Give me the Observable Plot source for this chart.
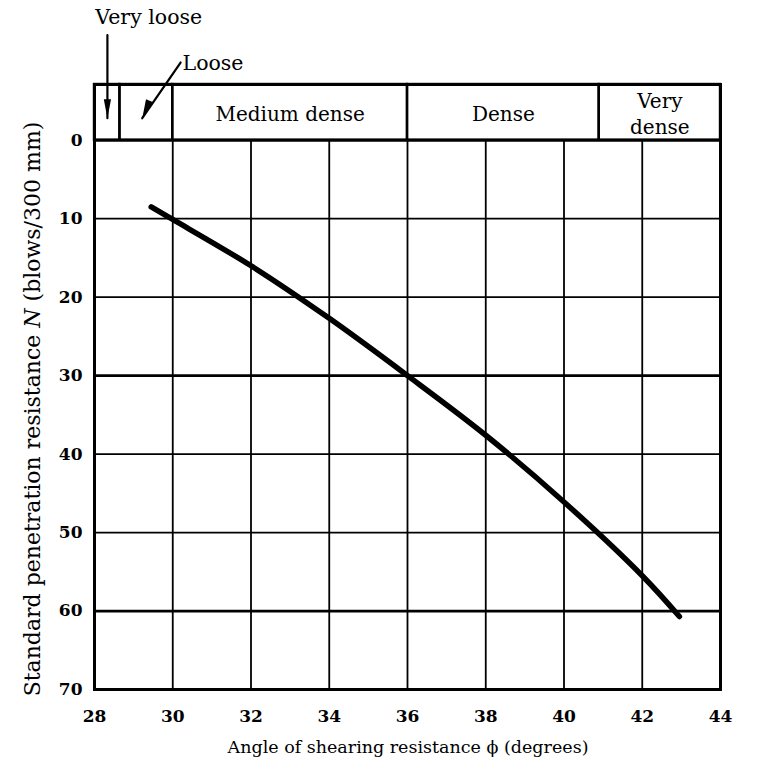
<!DOCTYPE html>
<html><head><meta charset="utf-8">
<script src="https://cdn.jsdelivr.net/npm/d3@7"></script>
<script src="https://cdn.jsdelivr.net/npm/@observablehq/plot@0.6"></script>
<style>body{margin:0;background:#fff}</style>
</head><body><div id="chart"></div>
<script>
// Curve: angle of shearing resistance (deg) vs SPT N
const phi = [29.45, 30, 32, 34, 36, 38, 40, 42, 42.95];
const N   = [8.5, 10.1, 16.0, 22.7, 30.0, 37.6, 46.1, 55.5, 60.7];
const xTicks = [28, 30, 32, 34, 36, 38, 40, 42, 44];
const yTicks = [0, 10, 20, 30, 40, 50, 60, 70];
const boldRows = [30, 60];
// Density band
const bandEdges = [28, 28.65, 30, 36, 40.9, 44];
const bandLabels = ["", "", "Medium dense", "Dense", "Very\ndense"];
const bandTop = -7.1;
// Annotations above the band
const annotLabels = ["Very loose", "Loose"];
const annotX = [28.02, 30.25];
const annotY = [-15.7, -9.8];
const arrowX1 = [28.33, 30.2], arrowY1 = [-13.4, -9.9];
const arrowX2 = [28.33, 29.22], arrowY2 = [-2.8, -2.8];
const arrowBend = [0, -28];
const arrowTilt = [0, 22];

const curve = phi.map((p, i) => ({phi: p, N: N[i]}));
const bands = bandLabels.map((l, i) => ({x1: bandEdges[i], x2: bandEdges[i + 1], label: l, xm: (bandEdges[i] + bandEdges[i + 1]) / 2}));
const annots = annotLabels.map((l, i) => ({label: l, x: annotX[i], y: annotY[i]}));
const arrows = arrowX1.map((x, i) => ({x1: x, y1: arrowY1[i], x2: arrowX2[i], y2: arrowY2[i], bend: arrowBend[i], tilt: arrowTilt[i]}));

// narrow filled arrowhead, tip at origin pointing down
const headSymbol = {draw(ctx) { ctx.moveTo(0, 0); ctx.lineTo(-3.6, -19); ctx.lineTo(3.6, -19); ctx.closePath(); }};

const font = "'DejaVu Serif', 'Liberation Serif', serif";

const chart = Plot.plot({
  width: 768, height: 777,
  marginLeft: 94, marginRight: 48, marginTop: 84, marginBottom: 88,
  style: {fontFamily: font, fontSize: "16px", color: "#000", background: "#fff", overflow: "visible"},
  x: {domain: [28, 44]},
  y: {domain: [bandTop, 70], reverse: true},
  marks: [
    Plot.ruleX(xTicks.slice(1, -1), {y1: 0, y2: 70, stroke: "#000", strokeWidth: 1.8, strokeOpacity: 1}),
    Plot.ruleY(yTicks.slice(1, -1).filter(v => !boldRows.includes(v)), {stroke: "#000", strokeWidth: 1.8, strokeOpacity: 1}),
    Plot.ruleY(boldRows, {stroke: "#000", strokeWidth: 2.8, strokeOpacity: 1}),
    Plot.ruleY([0], {stroke: "#000", strokeWidth: 3}),
    Plot.rect(bands, {x1: "x1", x2: "x2", y1: bandTop, y2: 0, fill: "none", stroke: "#000", strokeWidth: 2.4}),
    Plot.text(bands.filter(d => d.label), {x: "xm", y: bandTop / 2, text: "label", fontSize: 20, lineHeight: 1.3, fill: "#000"}),
    Plot.text(annots, {x: "x", y: "y", text: "label", textAnchor: "start", fontSize: 20.5, fill: "#000"}),
    Plot.arrow(arrows, {x1: "x1", y1: "y1", x2: "x2", y2: "y2", bend: "bend", stroke: "#000", strokeWidth: 2.2, headLength: 0}),
    Plot.dot(arrows, {x: "x2", y: "y2", symbol: headSymbol, rotate: "tilt", fill: "#000", stroke: "none"}),
    Plot.frame({stroke: "#000", strokeWidth: 3}),
    Plot.line(curve, {x: "phi", y: "N", curve: "catmull-rom", stroke: "#000", strokeWidth: 5.5, strokeLinecap: "round"}),
    Plot.axisX({ticks: xTicks, tickSize: 0, tickPadding: 20, fontSize: 17, fontWeight: "bold", label: null}),
    Plot.axisY({ticks: yTicks, tickSize: 0, tickPadding: 12, fontSize: 17, fontWeight: "bold", label: null})
  ]
});

const svg = d3.select(chart);
svg.append("text")
  .attr("x", 408).attr("y", 753)
  .attr("text-anchor", "middle")
  .attr("font-family", font).attr("font-size", 17.5).attr("fill", "#000")
  .text("Angle of shearing resistance \u03d5 (degrees)");
const yl = svg.append("text")
  .attr("transform", "translate(40,409) rotate(-90)")
  .attr("text-anchor", "middle")
  .attr("font-family", font).attr("font-size", 22).attr("fill", "#000");
yl.append("tspan").text("Standard penetration resistance ");
yl.append("tspan").attr("font-style", "italic").text("N");
yl.append("tspan").text(" (blows/300 mm)");

document.getElementById("chart").appendChild(chart);
</script>
</body></html>
